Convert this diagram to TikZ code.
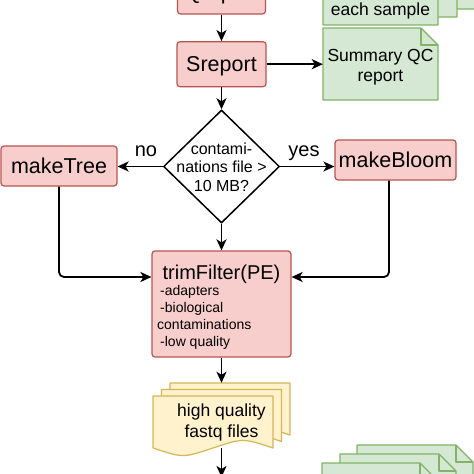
\documentclass[tikz,border=0pt]{standalone}
\usepackage{fontspec}
\setmainfont{Liberation Sans}
\usetikzlibrary{arrows.meta,shapes.geometric}
\definecolor{redfill}{HTML}{F8CECC}
\definecolor{redline}{HTML}{B85450}
\definecolor{grfill}{HTML}{D5E8D4}
\definecolor{grline}{HTML}{82B366}
\definecolor{yefill}{HTML}{FFF2CC}
\definecolor{yeline}{HTML}{D6B656}
\newcommand\fsz[2]{\fontsize{#1}{#2}\selectfont}
\newcommand\mynote[4]{%
 \draw[notestyle] (#1,#2) -- ({#3-17},#2) -- (#3,{#2+17}) -- (#3,#4) -- (#1,#4) -- cycle;
 \draw[notestyle,fill=none] ({#3-17},#2) -- ({#3-17},{#2+17}) -- (#3,{#2+17});}
\newcommand\mydoc[4]{%
 \draw[docstyle] (#1,#2) -- ({#1+#3},#2) -- ({#1+#3},#4) .. controls ({#1+0.75*#3},{#4-10}) .. ({#1+0.5*#3},#4) .. controls ({#1+0.25*#3},{#4+10}) .. (#1,#4) -- cycle;}
\begin{document}
\begin{tikzpicture}[x=1pt,y=-1pt,
 redbox/.style={draw=redline, fill=redfill, line width=1.2pt, rounded corners=3pt, inner sep=0pt, font=\fsz{21.5}{25}, text height=15.5pt, text depth=0pt},
 notestyle/.style={draw=grline, fill=grfill, line width=1.2pt, line join=round},
 docstyle/.style={draw=yeline, fill=yefill, line width=1.2pt, line join=round},
 arr/.style={line width=1.8pt, -{Stealth[length=11pt,width=10pt,inset=3pt]}},
 lbl/.style={inner sep=0pt, anchor=base, align=center},
 anchorbox/.style={draw=none, inner sep=0pt},
]
\useasboundingbox (0,0) rectangle (474,474);
\fill[white] (0,0) rectangle (474,474);

% top-right stacked notes
\mynote{359}{-60}{476}{9}
\mynote{341}{-60}{457}{17}
\mynote{323}{-60}{438}{25}
\node[lbl, font=\fsz{17.5}{21}] (eachsample) at (380.5,15) {each sample};

% summary note
\mynote{323}{28}{438}{100}
\node[anchorbox, minimum width=115pt, minimum height=72pt] (summary) at (380.5,64) {};
\node[lbl, font=\fsz{17.5}{20}] (summarytext) at (380.5,81.5) {Summary QC\\report};

% bottom-right stacked notes
\mynote{357}{445}{473}{520}
\mynote{340}{454}{456}{520}
\mynote{322}{463}{437}{520}

% red boxes
\node[redbox, minimum width=88pt, minimum height=45pt] (qreport) at (221.5,-8.5) {Qreport};
\node[redbox, minimum width=89pt, minimum height=45pt] (sreport) at (221.5,64.2) {Sreport};
\node[redbox, minimum width=116pt, minimum height=40pt] (maketree) at (59,166) {makeTree};
\node[redbox, minimum width=121pt, minimum height=40pt] (makebloom) at (395.5,160) {makeBloom};
\node[redbox, minimum width=139pt, minimum height=106pt] (trim) at (221.5,304) {};
\node[lbl, font=\fsz{20}{24}] (trimtitle) at (221.5,279) {trimFilter(PE)};
\node[inner sep=0pt, anchor=base west, align=left, font=\fsz{14}{17}] (trimitems) at (157,346.5)
  {\hspace*{3pt}-adapters\\\hspace*{3pt}-biological\\contaminations\\\hspace*{3pt}-low quality};

% decision
\node[draw, diamond, fill=white, line width=1.5pt, inner sep=0pt, minimum width=116pt, minimum height=113pt] (dec) at (221.5,166.5) {};
\node[lbl, font=\fsz{16}{18.5}] (dectext) at (221.5,191) {contami-\\nations file >\\10 MB?};
\node[lbl, font=\fsz{20}{24}] (no) at (146,156) {no};
\node[lbl, font=\fsz{20}{24}] (yes) at (304,156) {yes};

% documents
\mydoc{170}{383}{120}{435}
\mydoc{161.5}{389.5}{120}{441.5}
\mydoc{153}{396}{120}{448}
\node[anchorbox, minimum width=137pt, minimum height=65pt] (docs) at (221.5,415.5) {};
\node[lbl, font=\fsz{17.5}{20.7}] (docstext) at (221.5,437.2) {high quality\\fastq files};
\coordinate (bottomend) at (221.5,477);

% connectors
\draw[arr] (qreport.south) -- (sreport.north);
\draw[arr] (sreport.east) -- (sreport.east -| summary.west);
\draw[arr] (sreport.south) -- (dec.north);
\draw[arr] (dec.west) -- (dec.west -| maketree.east);
\draw[arr] (dec.east) -- (dec.east -| makebloom.west);
\draw[arr] (dec.south) -- (trim.north);
\draw[arr, rounded corners=5pt] (maketree.south) |- ([yshift=27pt]trim.west);
\draw[arr, rounded corners=5pt] ([xshift=-6.5pt]makebloom.south) |- ([yshift=27pt]trim.east);
\draw[arr] (trim.south) -- (docs.north);
\draw[arr] (docs.south) -- (bottomend);
\end{tikzpicture}
\end{document}
